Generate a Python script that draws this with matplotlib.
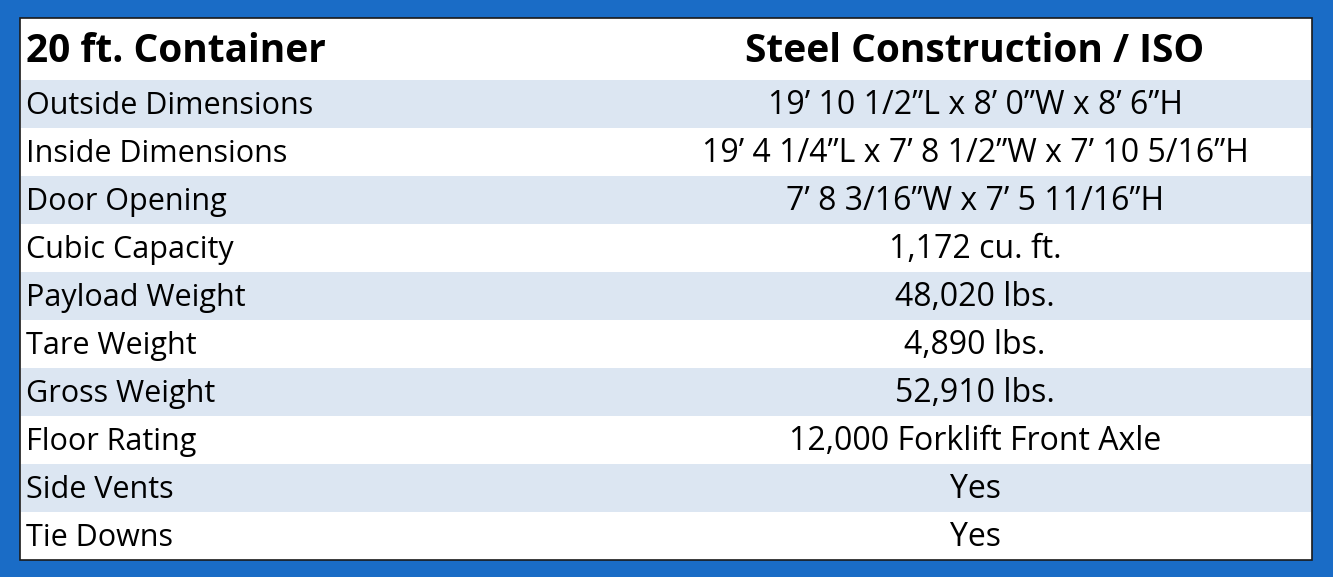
import matplotlib
matplotlib.use("Agg")
import matplotlib.pyplot as plt
from matplotlib.patches import Rectangle

header = ["20 ft. Container", "Steel Construction / ISO"]
labels = ["Outside Dimensions", "Inside Dimensions", "Door Opening", "Cubic Capacity",
          "Payload Weight", "Tare Weight", "Gross Weight", "Floor Rating", "Side Vents", "Tie Downs"]
values = ["19\u2019 10 1/2\u201dL x 8\u2019 0\u201dW x 8\u2019 6\u201dH",
          "19\u2019 4 1/4\u201dL x 7\u2019 8 1/2\u201dW x 7\u2019 10 5/16\u201dH",
          "7\u2019 8 3/16\u201dW x 7\u2019 5 11/16\u201dH",
          "1,172 cu. ft.", "48,020 lbs.", "4,890 lbs.", "52,910 lbs.",
          "12,000 Forklift Front Axle", "Yes", "Yes"]

fig = plt.figure(figsize=(13.33, 5.77), dpi=100)
fig.patch.set_facecolor("#1a6cc6")
ax = fig.add_axes([0, 0, 1, 1])
ax.set_xlim(0, 1333)
ax.set_ylim(577, 0)
ax.axis("off")

x0, x1, y0 = 20, 1312, 18
hh, rh = 62, 48
ytot = y0 + hh + rh * len(labels)
ax.add_patch(Rectangle((x0, y0), x1 - x0, ytot - y0, facecolor="white",
                       edgecolor="#1a1a1a", lw=1.2, zorder=1))
font = "Open Sans"
ax.text(26, y0 + hh / 2 + 3, header[0], fontsize=28, fontweight="bold", family=font,
        va="center", ha="left", zorder=3)
ax.text(975, y0 + hh / 2 + 3, header[1], fontsize=28, fontweight="bold", family=font,
        va="center", ha="center", zorder=3)
for i, (lab, val) in enumerate(zip(labels, values)):
    top = y0 + hh + i * rh
    if i % 2 == 0:
        ax.add_patch(Rectangle((x0 + 1, top), x1 - x0 - 2, rh, facecolor="#dce6f2",
                               edgecolor="none", zorder=2))
    ax.text(26, top + rh / 2 + 2, lab, fontsize=22, family=font, va="center", ha="left", zorder=3)
    ax.text(975, top + rh / 2 + 2, val, fontsize=23, family=font, va="center", ha="center", zorder=3)

fig.savefig("out.png", dpi=100, facecolor=fig.get_facecolor())
